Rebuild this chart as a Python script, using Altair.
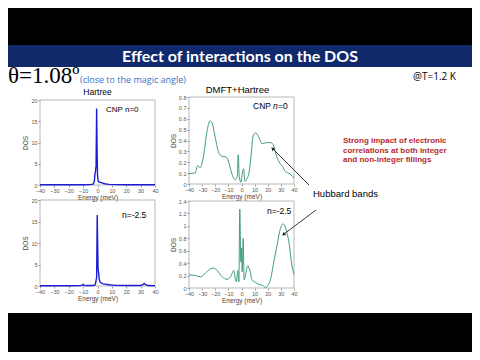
import altair as alt
import pandas as pd

# ---------------- data ----------------
energy_ticks = [-40, -30, -20, -10, 0, 10, 20, 30, 40]

# Hartree, CNP n=0
h0_E = [-40, -30, -20, -10, -5, -3, -2.2, -1.8, -1.4, -1.0, -0.6, -0.3, 0.0, 0.4, 1.0, 2.0, 3.0, 5.0, 8.0, 12, 20, 30, 40]
h0_D = [0.05, 0.05, 0.05, 0.06, 0.1, 0.2, 0.8, 2.5, 3.2, 4.5, 18.0, 9.0, 2.5, 1.0, 0.7, 0.6, 0.5, 0.3, 0.15, 0.08, 0.05, 0.05, 0.05]

# Hartree, n=-2.5
h25_E = [-40, -30, -20, -12, -10.5, -10, -9.5, -8, -3, -1.5, -0.6, -0.2, 0.1, 0.4, 0.8, 1.2, 2, 4, 8, 12, 20, 30, 31.5, 32.5, 33.5, 35, 40]
h25_D = [0.05, 0.05, 0.05, 0.08, 0.2, 0.4, 0.2, 0.1, 0.1, 0.3, 2.0, 16.5, 10, 4, 3.0, 1.5, 0.8, 0.5, 0.3, 0.15, 0.1, 0.1, 0.3, 0.6, 0.3, 0.1, 0.05]

# DMFT+Hartree, CNP n=0
d0_E = [-40, -37, -35.4, -33.4, -31.6, -29, -26.5, -24, -22.7, -20.2, -17.7, -15.1, -12, -10, -7.5, -5, -3.2, -2.5, -1.7, -0.4,
        0.6, 1.6, 2.6, 4.2, 5.7, 7.2, 9, 10.8, 12.8, 15.8, 19.1, 22.4, 24.2, 26.8, 29.3, 31.8, 33, 35.6, 37.7, 40]
d0_D = [0.095, 0.1, 0.1, 0.17, 0.15, 0.25, 0.47, 0.58, 0.57, 0.44, 0.30, 0.255, 0.25, 0.21, 0.10, 0.04, 0.07, 0.27, 0.07, 0.015,
        0.10, 0.14, 0.025, 0.05, 0.10, 0.25, 0.45, 0.47, 0.44, 0.37, 0.38, 0.38, 0.36, 0.25, 0.19, 0.15, 0.12, 0.10, 0.085, 0.055]

# DMFT+Hartree, n=-2.5
d25_E = [-40, -35, -31.2, -27.4, -23.6, -21, -18.5, -14.7, -11, -8.4, -5.9, -4.6, -3.9, -2.9, -2.0, -1.3, -0.5, 0, 0.5, 1.3,
         2, 3, 4.8, 6.3, 8.1, 10.6, 14.4, 16.2, 18.2, 20.3, 22, 24.6, 27.1, 29.7, 31.4, 33, 34.7, 36.5, 38, 40]
d25_D = [0.21, 0.20, 0.18, 0.24, 0.31, 0.32, 0.28, 0.18, 0.14, 0.18, 0.28, 0.13, 0.10, 0.28, 0.10, 1.27, 0.42, 0.64, 0.26, 0.80,
         0.13, 0.21, 0.36, 0.29, 0.13, 0.09, 0.05, 0.04, 0.01, 0.05, 0.13, 0.42, 0.69, 0.96, 1.03, 1.0, 0.88, 0.69, 0.42, 0.22]

title_text = "Effect of interactions on the DOS"
theta_text = "\u03b8=1.08\u00ba"
magic_text = "(close to the magic angle)"
temp_text = "@T=1.2 K"
red_lines = ["Strong impact of electronic", "correlations at both integer", "and non-integer fillings"]

# ---------------- layout helpers ----------------
W, H = 464, 344   # whole page = 480 x 360 with the 8px margin
OX, OY = 8, 8


def px(x):
    return x - OX


def py(y):
    return y - OY


FONT = "Liberation Sans"


def scales(xr, yr, ydom):
    xs = alt.Scale(domain=[-40, 40], range=[px(xr[0]), px(xr[1])], nice=False, zero=False)
    ys = alt.Scale(domain=ydom, range=[py(yr[0]), py(yr[1])], nice=False, zero=False)
    return xs, ys


def panel_line(E, D, color, xr, yr, ydom, yvals, interp, width):
    df = pd.DataFrame({"E": E, "DOS": D})
    xs, ys = scales(xr, yr, ydom)
    common = dict(labelFontSize=5.5, titleFontSize=6.5, labelColor="#555", titleColor="#444",
                  tickSize=2, tickColor="#999", domain=False, grid=False, labelPadding=1,
                  labelFont=FONT, titleFont=FONT, titleFontWeight="normal",
                  labelFlush=False, labelOverlap=False)
    xaxis = alt.Axis(orient="bottom", offset=py(yr[0]) - H, values=energy_ticks, format="d",
                     title="Energy (meV)", titlePadding=1, **common)
    yaxis = alt.Axis(orient="left", offset=-px(xr[0]), values=yvals, format="~g",
                     title="DOS", titlePadding=2, **common)
    return alt.Chart(df).mark_line(color=color, strokeWidth=width, interpolate=interp).encode(
        x=alt.X("E:Q", scale=xs, axis=xaxis),
        y=alt.Y("DOS:Q", scale=ys, axis=yaxis),
    )


def panel_box(xr, yr, ydom):
    xs, ys = scales(xr, yr, ydom)
    box_df = pd.DataFrame({"x0": [-40], "x1": [40], "y0": [ydom[0]], "y1": [ydom[1]]})
    return alt.Chart(box_df).mark_rect(fillOpacity=0, stroke="#9a9a9a", strokeWidth=0.7).encode(
        x=alt.X("x0:Q", scale=xs, axis=None), x2="x1:Q",
        y=alt.Y("y0:Q", scale=ys, axis=None), y2="y1:Q")


def text(t, x, y, size, color="#000", weight="normal", align="left", font=FONT, style="normal", baseline="middle"):
    return alt.Chart(pd.DataFrame({"t": [t]})).mark_text(
        align=align, baseline=baseline, fontSize=size, color=color, fontWeight=weight,
        font=font, fontStyle=style).encode(x=alt.value(px(x)), y=alt.value(py(y)), text="t:N")


def band(y0, y1, color):
    return alt.Chart(pd.DataFrame({"a": [0]})).mark_rect(color=color).encode(
        x=alt.value(0), x2=alt.value(W), y=alt.value(py(y0)), y2=alt.value(py(y1)))


def rule(x0, y0, x1, y1):
    return alt.Chart(pd.DataFrame({"a": [0]})).mark_rule(color="#3a3a3a", strokeWidth=1).encode(
        x=alt.value(px(x0)), y=alt.value(py(y0)), x2=alt.value(px(x1)), y2=alt.value(py(y1)))


def head(x, y, ang):
    return alt.Chart(pd.DataFrame({"a": [0]})).mark_point(
        shape="triangle", filled=True, size=16, angle=ang, color="#2a2a2a", opacity=1).encode(
        x=alt.value(px(x)), y=alt.value(py(y)))


BLUE = "#1c1cd6"
TEAL = "#3f9c80"

P1 = ((40, 155), (185, 100), [0, 20])
P2 = ((40, 155), (286, 200), [0, 20])
P3 = ((189, 294), (184, 97), [0, 0.8])
P4 = ((189, 294), (288, 201), [0, 1.4])

layers = [
    band(0, 45, "#000000"),
    band(45, 67, "#10296a"),
    band(313, 368, "#000000"),
    text(title_text, 240, 56.5, 16, color="#ffffff", weight="bold", align="center", font="Lato"),
    text(theta_text, 8, 76, 23, font="Liberation Serif"),
    text(magic_text, 80, 79.5, 9, color="#3a6fc4", font="Open Sans"),
    text(temp_text, 413, 77, 10, font="Open Sans"),
    text("Hartree", 97.5, 92, 8.5, align="center"),
    text("DMFT+Hartree", 237.5, 90, 9.5, align="center"),
    panel_box(*P1),
    panel_box(*P2),
    panel_box(*P3),
    panel_box(*P4),
    panel_line(h0_E, h0_D, BLUE, *P1, [0, 5, 10, 15, 20], "linear", 1.4),
    panel_line(h25_E, h25_D, BLUE, *P2, [0, 5, 10, 15, 20], "linear", 1.4),
    panel_line(d0_E, d0_D, TEAL, *P3, [0, 0.1, 0.2, 0.3, 0.4, 0.5, 0.6, 0.7, 0.8], "monotone", 1.0),
    panel_line(d25_E, d25_D, TEAL, *P4, [0, 0.2, 0.4, 0.6, 0.8, 1.0, 1.2, 1.4], "monotone", 1.0),
    text("CNP  n=0", 106, 110, 8),
    text("CNP", 253, 106, 8.5),
    text("n", 273, 106, 8.5, style="italic"),
    text("=0", 278, 106, 8.5),
    text("n=-2.5", 122, 215, 8.5),
    text("n=-2.5", 267, 211, 8.5),
    text(red_lines[0], 343, 141, 8, color="#b8282e", weight="bold"),
    text(red_lines[1], 343, 150.5, 8, color="#b8282e", weight="bold"),
    text(red_lines[2], 343, 160, 8, color="#b8282e", weight="bold"),
    text("Hubbard bands", 313, 194, 9.5),
    rule(309, 185, 273, 149),
    rule(316, 210, 284, 234),
    head(273, 149, 315),
    head(284, 234, 233),
]

chart = alt.layer(*layers).resolve_scale(x="independent", y="independent").properties(
    width=W, height=H, autosize=alt.AutoSizeParams(type="none"), padding=0
).configure_view(strokeWidth=0)

chart.save("out.html", embed_options={"renderer": "svg", "actions": False})
